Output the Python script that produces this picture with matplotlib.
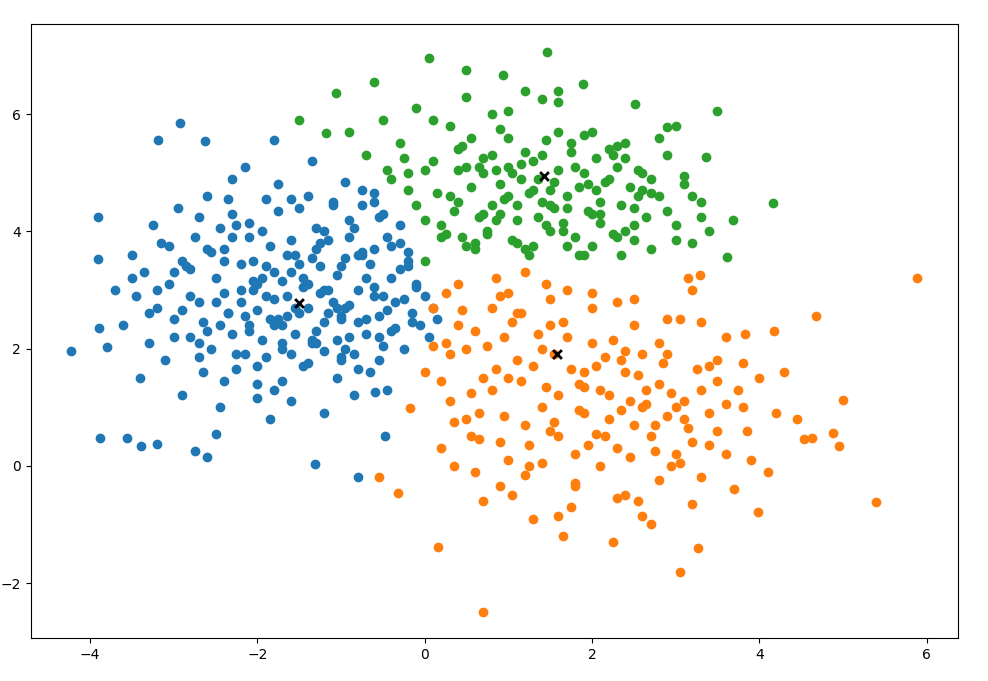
"""K-means result: three clusters with their centroids."""

import matplotlib

matplotlib.use("Agg")
import matplotlib.pyplot as plt

# points (approximate), one array per cluster
BLUE_X = [
    -4.23, -3.91, -3.90, -3.88, -3.89, -3.80, -3.56, -3.39, -3.20, -3.19, -2.93, -2.62,
    -2.60, -2.75, -2.50, -1.31, -0.80, -1.80, -0.59, -0.47,
    -3.7, -3.6, -3.5, -3.45, -3.4, -3.35, -3.3, -3.25, -3.2, -3.15, -3.1, -3.05, -3.0,
    -2.95, -2.9, -2.85, -2.8, -2.75, -2.7, -2.65, -2.6, -2.55, -2.5, -2.45, -2.4, -2.35,
    -2.3, -2.25, -2.2, -2.15, -2.1, -2.05, -2.0, -1.95, -1.9, -1.85, -1.8, -1.75, -1.7,
    -1.65, -1.6, -1.55, -1.5, -1.45, -1.4, -1.35, -1.3, -1.25, -1.2, -1.15, -1.1, -1.05,
    -1.0, -0.95, -0.9, -0.85, -0.8, -0.75, -0.7, -0.65, -0.6, -0.55, -0.5, -0.45, -0.4,
    -0.35, -0.3, -0.25, -0.2, -0.15, -0.1, -0.05, 0.0, 0.05, 0.1, 0.15,
    -3.3, -3.0, -2.8, -2.6, -2.4, -2.2, -2.0, -1.8, -1.6, -1.4, -1.2, -1.0, -0.8, -0.6,
    -0.4, -0.2, -2.9, -2.7, -2.5, -2.3, -2.1, -1.9, -1.7, -1.5, -1.3, -1.1, -0.9, -0.7,
    -0.5, -0.3, -2.35, -2.15, -1.95, -1.75, -1.55, -1.35, -1.15, -0.95, -0.75, -0.55,
    -2.45, -2.05, -1.65, -1.25, -0.85, -0.45, -1.45, -1.85, -1.05, -2.25,
    -1.6, -1.2, -2.0, -0.9, -2.3, -1.4, -1.8, -1.0, -0.6, -2.6, -1.7, -1.3, -2.1,
]
BLUE_Y = [
    1.96, 4.25, 3.53, 0.48, 2.35, 2.03, 0.48, 0.34, 0.38, 5.56, 5.85, 5.54,
    0.15, 0.26, 0.55, 0.03, -0.19, 5.55, 1.26, 0.51,
    3.0, 2.4, 3.6, 2.9, 1.5, 3.3, 2.1, 4.1, 2.7, 3.8, 1.8, 3.1, 2.5,
    4.4, 1.2, 3.4, 2.2, 3.9, 2.8, 1.6, 4.6, 2.0, 3.2, 1.0, 3.7, 2.6,
    4.3, 1.9, 3.0, 5.1, 2.4, 3.5, 1.4, 4.0, 2.9, 0.8, 3.3, 4.8, 2.1,
    3.6, 1.1, 2.7, 4.4, 1.7, 3.1, 5.2, 2.3, 3.8, 0.9, 2.6, 4.5, 1.5,
    3.4, 2.0, 4.2, 1.2, 3.0, 4.7, 2.5, 1.6, 3.7, 2.2, 4.3, 1.3, 3.2,
    2.8, 4.1, 2.0, 3.5, 2.6, 3.1, 2.4, 2.9, 2.2, 2.7, 2.5,
    2.6, 3.3, 2.9, 2.3, 3.5, 2.8, 3.1, 2.4, 3.3, 2.7, 3.0, 2.5, 3.6, 2.9,
    2.3, 3.4, 3.5, 2.1, 2.8, 3.9, 2.3, 3.4, 2.0, 2.6, 3.7, 2.8, 2.2, 3.2,
    2.9, 3.8, 2.6, 1.9, 3.2, 2.5, 3.6, 2.1, 3.0, 2.7, 3.6, 1.8,
    2.4, 3.0, 2.9, 3.4, 1.9, 3.9, 3.2, 2.5, 2.7, 4.1,
    1.9, 4.0, 1.7, 3.9, 4.9, 4.6, 1.3, 1.8, 4.5, 3.7, 2.4, 2.1, 3.9,
]
BLUE_CORE = [
    (-2.4, 2.95), (-2.2, 3.45), (-2.0, 2.65), (-1.85, 3.75), (-1.7, 3.15), (-1.55, 2.25),
    (-1.35, 3.55), (-1.2, 2.45), (-1.05, 3.25), (-0.9, 2.75), (-0.75, 3.65), (-0.6, 3.05),
    (-0.45, 2.65), (-0.3, 3.35), (-2.55, 3.65), (-2.3, 2.25), (-2.1, 4.15), (-1.95, 2.15),
    (-1.75, 4.35), (-1.6, 3.85), (-1.45, 3.05), (-1.3, 4.05), (-1.15, 3.85), (-1.0, 2.55),
    (-0.85, 4.05), (-0.7, 2.25), (-0.55, 4.25), (-0.4, 3.75), (-0.25, 2.85), (-0.1, 3.05),
    (-2.65, 2.45), (-2.45, 4.05), (-2.25, 1.65), (-2.05, 3.15), (-1.9, 1.85), (-1.65, 2.55),
    (-1.5, 3.45), (-1.25, 2.95), (-1.1, 4.45), (-0.95, 3.55), (-0.8, 2.45), (-0.65, 3.45),
    (-0.5, 2.05), (-0.35, 2.35), (-0.2, 3.65), (-2.8, 3.35), (-2.9, 2.65), (-3.05, 3.75),
    (-2.7, 4.25), (-1.4, 1.75), (-1.2, 1.95), (-1.0, 1.85), (-0.8, 1.65), (-1.6, 4.55),
    (-1.9, 4.55), (-2.35, 4.55), (-0.95, 4.85), (-0.6, 4.65), (-0.75, 4.45), (-1.7, 1.45),
    (-2.0, 1.15), (-2.4, 1.45), (-2.7, 1.85), (-3.0, 2.2), (-3.2, 3.0), (-3.5, 3.2),
    (-1.35, 2.15), (-1.05, 2.15), (-0.55, 2.55), (-1.8, 2.85), (-2.15, 2.55), (-0.15, 2.45),
]
GREEN_X = [
    0.05, 1.46, 0.94, 0.49, -0.61, -1.06, -1.18, -1.50, 3.50, 4.16, 3.62, 3.69, 2.90,
    1.89, 2.51, 3.36,
    -0.9, -0.7, -0.5, -0.4, -0.3, -0.2, -0.1, 0.0, 0.1, 0.2, 0.3, 0.4, 0.5, 0.6, 0.7,
    0.8, 0.9, 1.0, 1.1, 1.2, 1.3, 1.4, 1.5, 1.6, 1.7, 1.8, 1.9, 2.0, 2.1, 2.2, 2.3, 2.4,
    2.5, 2.6, 2.7, 2.8, 2.9, 3.0, 3.1, 3.2, 3.3, 3.4,
    0.3, 0.5, 0.7, 0.9, 1.1, 1.3, 1.5, 1.7, 1.9, 2.1, 2.3, 2.5, 2.7, 0.2, 0.4, 0.6, 0.8,
    1.0, 1.2, 1.4, 1.6, 1.8, 2.0, 2.2, 2.4, 2.6, 0.45, 0.75, 1.05, 1.35, 1.65, 1.95,
    2.25, 2.55, 0.85, 1.15, 1.45, 1.75, 2.05, 1.25, 1.55, 0.65, 2.35, 0.55, 1.85,
    0.1, 3.0, 2.8, 0.0, 3.2, -0.2, 1.0, 1.6,
]
GREEN_Y = [
    6.95, 7.06, 6.66, 6.76, 6.55, 6.36, 5.68, 5.90, 6.05, 4.49, 3.57, 4.20, 5.78,
    6.52, 6.18, 5.26,
    5.7, 5.3, 5.9, 4.9, 5.5, 4.7, 6.1, 4.2, 5.2, 3.9, 5.8, 4.5, 6.3, 3.7, 5.0,
    6.0, 4.3, 5.6, 3.8, 6.4, 4.7, 5.3, 4.0, 6.2, 4.6, 5.1, 3.6, 5.7, 4.3, 4.9, 3.9, 5.5,
    4.4, 5.0, 3.7, 4.6, 5.3, 4.1, 4.8, 3.8, 4.5, 4.0,
    4.6, 5.1, 4.3, 4.8, 4.2, 5.2, 4.7, 4.4, 5.0, 4.5, 5.1, 4.1, 4.9, 4.1, 5.4, 3.8, 5.3,
    4.6, 3.7, 4.5, 5.7, 3.9, 4.3, 5.4, 4.0, 4.7, 3.9, 4.0, 5.0, 4.9, 4.0, 4.8, 5.3,
    4.6, 4.2, 4.9, 4.1, 5.5, 4.7, 3.6, 4.4, 5.1, 3.6, 5.6, 3.6, 5.9,
    5.8, 5.6, 3.5, 4.6, 5.0, 5.1, 6.4, 6.6,
]
GREEN_CORE = [
    (0.35, 4.35), (0.55, 4.75), (0.75, 3.95), (0.95, 4.55), (1.15, 5.15), (1.35, 4.25),
    (1.55, 4.85), (1.75, 5.35), (1.95, 4.35), (2.15, 4.85), (2.35, 4.45), (2.55, 5.05),
    (0.45, 5.45), (0.65, 4.25), (0.85, 5.05), (1.05, 3.85), (1.25, 4.65), (1.45, 5.55),
    (1.65, 4.15), (1.85, 4.75), (2.05, 5.25), (2.25, 3.95), (2.45, 4.75), (2.65, 4.25),
    (0.15, 4.65), (0.25, 3.95), (0.5, 3.75), (0.7, 5.25), (0.9, 5.75), (1.1, 4.45),
    (1.3, 3.75), (1.5, 4.45), (1.7, 3.75), (1.9, 5.65), (2.1, 4.15), (2.3, 5.45),
    (2.5, 3.85), (2.7, 4.65), (2.9, 4.35), (3.1, 4.95), (3.3, 4.25), (3.0, 3.85),
    (0.4, 5.05), (0.8, 4.45), (1.2, 5.35), (1.6, 5.05), (2.0, 3.75), (2.4, 5.25),
    (-0.1, 4.45), (0.0, 5.05), (-0.25, 5.25), (-0.45, 5.05), (1.0, 6.05), (1.4, 6.25),
]
ORANGE_X = [
    5.89, 5.40, 3.05, 0.70, 0.16, 3.27, 4.68, 5.00, 4.95, 4.53, 4.63, 4.88, 3.99,
    3.83, 4.18, 3.29, 3.15, -0.55, -0.32, -0.17,
    0.0, 0.1, 0.2, 0.3, 0.4, 0.5, 0.6, 0.7, 0.8, 0.9, 1.0, 1.1, 1.2, 1.3, 1.4, 1.5, 1.6,
    1.7, 1.8, 1.9, 2.0, 2.1, 2.2, 2.3, 2.4, 2.5, 2.6, 2.7, 2.8, 2.9, 3.0, 3.1, 3.2, 3.3,
    3.4, 3.5, 3.6, 3.7, 3.8, 3.9, 4.0, 4.1, 4.2, 4.3,
    0.3, 0.5, 0.7, 0.9, 1.1, 1.3, 1.5, 1.7, 1.9, 2.1, 2.3, 2.5, 2.7, 2.9, 3.1, 3.3, 3.5,
    0.4, 0.6, 0.8, 1.0, 1.2, 1.4, 1.6, 1.8, 2.0, 2.2, 2.4, 2.6, 2.8, 3.0, 3.2, 3.4, 3.6,
    0.65, 0.95, 1.25, 1.55, 1.85, 2.15, 2.45, 2.75, 3.05, 1.05, 1.75, 2.35, 2.65, 1.45,
    0.35, 0.85, 2.05, 2.95, 3.75, 1.15, 2.55, 0.25, 3.85, 1.65, 4.45, 0.55, 2.25,
]
ORANGE_Y = [
    3.21, -0.61, -1.81, -2.49, -1.38, -1.40, 2.56, 1.13, 0.34, 0.46, 0.48, 0.56, -0.79,
    2.25, 2.30, 3.26, 3.21, -0.19, -0.46, 0.99,
    1.6, 2.7, 0.3, 1.9, 3.1, 0.8, 2.3, -0.6, 1.3, 2.9, 0.1, 1.8, 3.3, -0.9, 1.0, 2.4, 0.5,
    3.0, -0.3, 1.6, 2.1, 0.0, 1.2, 2.8, -0.5, 0.7, 1.9, -1.0, 1.4, 2.5, 0.2, 1.1, 3.0, -0.2,
    1.7, 0.6, 2.2, -0.4, 1.0, 0.1, 1.5, -0.1, 0.9, 1.6,
    1.1, 2.0, 1.5, 0.4, 2.6, 1.7, 0.6, 2.2, 0.9, 1.3, 0.3, 2.4, 0.5, 1.9, 0.8, 1.3, 1.8,
    2.4, -0.1, 2.7, 1.5, 0.7, 2.0, 1.2, 0.2, 2.7, 0.8, 1.6, 1.0, 2.1, 1.0, 0.4, 0.9, 0.2,
    0.9, 2.2, 0.0, 1.9, 1.4, 0.5, 1.1, 0.7, 2.5, -0.5, -0.7, 1.8, 1.3, 3.1,
    0.0, 3.2, 1.7, 0.0, 1.3, 2.6, -0.6, 2.1, 0.6, -1.2, 0.8, 0.5, -1.3,
]
ORANGE_CORE = [
    (0.55, 1.25), (0.75, 2.05), (0.95, 0.85), (1.15, 1.45), (1.35, 2.25), (1.55, 0.75),
    (1.75, 1.65), (1.95, 0.35), (2.15, 1.85), (2.35, 0.95), (2.55, 1.55), (2.75, 0.25),
    (2.95, 1.25), (3.15, 0.65), (0.65, 0.45), (0.85, 1.65), (1.05, 2.45), (1.25, 0.35),
    (1.45, 1.35), (1.65, 2.45), (1.85, 0.95), (2.05, 0.55), (2.25, 2.15), (2.45, 0.15),
    (2.65, 1.05), (2.85, 1.75), (3.05, 0.05), (3.25, 1.65), (0.45, 2.65), (0.35, 0.75),
    (1.0, 2.95), (1.5, 2.85), (2.0, 2.95), (2.5, 2.85), (1.2, -0.15), (1.8, -0.35),
    (2.3, -0.55), (2.8, -0.25), (3.4, 0.35), (3.6, 1.05), (3.8, 1.75), (0.2, 1.45),
    (0.1, 2.05), (0.25, 2.95), (1.4, 0.05), (1.9, 1.35), (2.4, 1.95), (2.9, 0.85),
    (3.3, 2.45), (3.5, 1.45), (1.6, -0.85), (2.6, -0.85), (3.2, -0.65), (0.9, -0.35),
]
CENTERS_X = [-1.50, 1.58, 1.43]
CENTERS_Y = [2.78, 1.91, 4.95]


def cluster(xs, ys, core):
    # hand-typed lists may differ by a value or two; keep only full pairs
    n = min(len(xs), len(ys))
    return list(xs[:n]) + [p[0] for p in core], list(ys[:n]) + [p[1] for p in core]


def main():
    fig, ax = plt.subplots(figsize=(9.88, 6.81), dpi=100)
    ax.scatter(*cluster(BLUE_X, BLUE_Y, BLUE_CORE), color="tab:blue")
    ax.scatter(*cluster(GREEN_X, GREEN_Y, GREEN_CORE), color="tab:green")
    ax.scatter(*cluster(ORANGE_X, ORANGE_Y, ORANGE_CORE), color="tab:orange")
    ax.scatter(CENTERS_X, CENTERS_Y, marker="x", color="black", s=40, linewidths=2)
    ax.set_xlim(-4.71, 6.38)
    ax.set_ylim(-2.94, 7.54)
    fig.subplots_adjust(left=0.031, right=0.97, bottom=0.063, top=0.965)
    fig.savefig("out.png", dpi=100)


if __name__ == "__main__":
    main()
